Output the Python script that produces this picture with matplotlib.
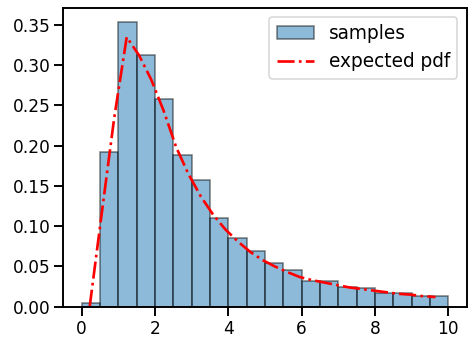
import matplotlib
matplotlib.use("Agg")
import matplotlib.pyplot as plt
import seaborn as sns
import numpy as np

# histogram of the samples (density per bin, bin width 0.5)
bin_edges = [0.0, 0.5, 1.0, 1.5, 2.0, 2.5, 3.0, 3.5, 4.0, 4.5, 5.0,
             5.5, 6.0, 6.5, 7.0, 7.5, 8.0, 8.5, 9.0, 9.5, 10.0]
density = [0.0046, 0.192, 0.354, 0.313, 0.258, 0.188, 0.157, 0.110, 0.085, 0.0695,
           0.054, 0.046, 0.032, 0.032, 0.025, 0.023, 0.017, 0.017, 0.0128, 0.0128]

# expected pdf evaluated on a coarse grid
pdf_x = [0.22, 0.56, 0.89, 1.23, 1.57, 1.90, 2.24, 2.58, 2.91, 3.25,
         3.59, 3.92, 4.26, 4.60, 4.93, 5.27, 5.61, 5.94, 6.28, 6.62,
         6.95, 7.29, 7.63, 7.96, 8.30, 8.64, 8.97, 9.31, 9.65]
pdf_y = [0.0, 0.12, 0.235, 0.335, 0.312, 0.282, 0.243, 0.198, 0.165, 0.137,
         0.114, 0.096, 0.081, 0.068, 0.058, 0.050, 0.043, 0.037, 0.033, 0.030,
         0.027, 0.024, 0.022, 0.020, 0.018, 0.016, 0.015, 0.013, 0.012]

sns.set_context("talk")
plt.rcParams['font.family'] = ['DejaVu Sans']

fig = plt.figure(figsize=(474 / 74, 348 / 74), dpi=74)
ax = fig.add_axes([0.1335, 0.1187, 0.8511, 0.8597])

ax.hist(bin_edges[:-1], bins=bin_edges, weights=density,
        alpha=0.5, edgecolor='k', label='samples')
ax.plot(pdf_x, pdf_y, 'r-.', lw=2.6, label='expected pdf')

ax.legend(loc='upper right', fontsize=18)

fig.savefig('out.png', dpi=74)
